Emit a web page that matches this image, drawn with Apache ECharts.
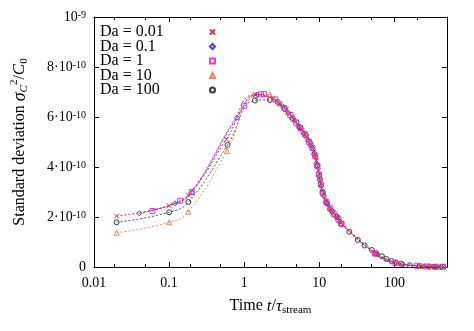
<!DOCTYPE html>
<html><head><meta charset="utf-8">
<script src="https://cdn.jsdelivr.net/npm/echarts@6/dist/echarts.min.js"></script>
<style>html,body{margin:0;padding:0;background:#fff}#c{width:474px;height:331px}</style>
</head><body><div id="c"></div>
<script>
// Legend / series names
const seriesNames = ['Da = 0.01', 'Da = 0.1', 'Da = 1', 'Da = 10', 'Da = 100'];
// y values are in units of 1e-10
const UNIT = 1e-10;
const da001 = [[0.02,2.04],[0.1,2.45],[0.18,2.88],[0.58,5.11],[1.4,6.90],[2.4,6.75],[3.0,6.52],[3.6,6.29],[4.3,6.00],[5.1,5.71],[5.9,5.47],[6.7,5.23],[7.6,4.92],[8.4,4.60],[9.1,4.25],[9.7,3.85],[10.3,3.44],[10.9,3.04],[12.0,2.68],[13.6,2.40],[15.2,2.16],[17.5,1.96],[19.3,1.76],[56,0.54],[110,0.15],[220,0.04],[300,0.02],[380,0.01],[450,0.01]];
const da01 = [[0.04,2.15],[0.12,2.55],[0.2,2.98],[0.8,5.97],[1.5,6.90],[3.2,6.44],[3.9,6.16],[4.7,5.85],[5.4,5.62],[6.3,5.35],[7.1,5.08],[8.1,4.76],[8.8,4.44],[9.4,4.05],[10.0,3.64],[10.6,3.24],[11.5,2.84],[12.8,2.52],[14.4,2.28],[16.7,2.04],[18.8,1.82],[60,0.50],[130,0.11],[250,0.03],[340,0.01],[420,0.01]];
const da1 = [[0.06,2.24],[0.14,2.65],[0.2,3.00],[1.0,6.45],[1.67,6.91],[1.83,6.92],[2.6,6.70],[3.4,6.37],[4.1,6.08],[4.9,5.78],[5.6,5.56],[6.4,5.31],[7.3,5.01],[8.1,4.76],[8.8,4.44],[9.4,4.05],[9.9,3.70],[10.5,3.30],[11.2,2.94],[12.4,2.60],[14.0,2.34],[16.0,2.10],[18.0,1.90],[19.8,1.72],[55,0.55],[100,0.18],[200,0.05],[270,0.02],[350,0.01],[440,0.01]];
const da10 = [[0.02,1.37],[0.1,1.79],[0.18,2.21],[0.59,4.65],[1.42,6.88],[2.2,6.90],[2.9,6.57],[3.8,6.20],[4.5,5.91],[5.3,5.65],[6.1,5.40],[7.0,5.12],[7.8,4.86],[8.6,4.52],[9.2,4.18],[9.8,3.78],[10.4,3.38],[11.0,3.00],[12.2,2.64],[13.9,2.36],[15.8,2.12],[18.5,1.86],[57,0.52],[115,0.14],[230,0.04],[310,0.02],[400,0.01]];
const da100 = [[0.02,1.79],[0.1,2.19],[0.18,2.60],[0.6,4.88],[1.39,6.66],[2.2,6.68],[2.8,6.60],[3.5,6.32],[4.4,5.95],[5.5,5.59],[6.6,5.26],[7.6,4.92],[8.6,4.52],[9.4,4.05],[10.2,3.50],[11.0,3.00],[12.6,2.56],[14.8,2.22],[17.2,2.00],[19.5,1.74],[25,1.41],[32.5,1.08],[40,0.86],[50,0.68],[57,0.54],[68,0.43],[78,0.32],[91,0.24],[105,0.17],[124,0.12],[160,0.07],[215,0.04],[290,0.02],[360,0.01],[440,0.01]];
const allData = [da001, da01, da1, da10, da100];
// Axis ticks
const xTicks = [0.01, 0.1, 1, 10, 100];
const xTickLabels = ['0.01', '0.1', '1', '10', '100'];
const xMinorTicks = [0.02, 0.05, 0.2, 0.5, 2, 5, 20, 50, 200];
const yTickLabelsBase = ['0', '2·10', '4·10', '6·10', '8·10', '10'];
const yTickLabelsExp = ['', '-10', '-10', '-10', '-10', '-9'];

const FONT = 'Liberation Serif';
const colors = ['#e2303f', '#4c3ce0', '#e03ee6', '#f0845a', '#3a3a3a'];
const lineColors = ['#e2303f', '#5a3ce0', '#d03ee0', '#f08a60', '#555555'];
const symbols = ['path://M0,0L10,10M10,0L0,10', 'diamond', 'rect', 'triangle', 'circle'];

const chart = echarts.init(document.getElementById('c'), null, {renderer: 'canvas'});

const series = allData.map((d, i) => ({
  name: seriesNames[i],
  type: 'line',
  xAxisIndex: 0, yAxisIndex: 0,
  data: d.map(p => [p[0], p[1] * UNIT]),
  symbol: symbols[i],
  symbolSize: 5,
  smooth: 0.5,
  showAllSymbol: true,
  lineStyle: {color: lineColors[i], width: 1, type: [2, 2]},
  itemStyle: {color: 'rgba(0,0,0,0)', borderColor: colors[i], borderWidth: 1},
  emphasis: {disabled: true},
  z: [6, 5, 4, 3, 2][i]
}));

const axisLine = {show: true, onZero: false, lineStyle: {color: '#000', width: 1}};
const gridRect = {left: 92, right: 27, top: 17, bottom: 64, containLabel: false};

const xFmt = v => {
  for (let k = 0; k < xTicks.length; k++) if (Math.abs(Math.log10(v) - Math.log10(xTicks[k])) < 1e-6) return xTickLabels[k];
  return '';
};

chart.setOption({
  animation: false,
  backgroundColor: '#fff',
  grid: [Object.assign({}, gridRect), Object.assign({}, gridRect)],
  legend: {
    orient: 'vertical', left: 100, top: 24, padding: 0, itemGap: -1.5,
    align: 'right', itemWidth: 5, itemHeight: 5,
    selectedMode: false,
    data: seriesNames.map((n, i) => ({name: n, icon: symbols[i]})),
    formatter: n => '{a|' + n + '}',
    textStyle: {fontFamily: FONT, color: '#000',
      rich: {a: {width: 105, align: 'left', fontSize: 16, lineHeight: 13.5, fontFamily: FONT, color: '#000'}}}
  },
  xAxis: [
    {type: 'log', logBase: 10, gridIndex: 0, position: 'bottom', min: 0.01, max: 500,
     axisLine: axisLine,
     axisTick: {show: true, inside: true, length: 5, customValues: xTicks, lineStyle: {color: '#000'}},
     axisLabel: {customValues: xTicks, formatter: xFmt, margin: 9, fontFamily: FONT, fontSize: 14, color: '#000'},
     splitLine: {show: false},
     name: '{n|Time }{i|t}{n|/}{i|τ}{s|stream}',
     nameLocation: 'middle', nameGap: 31,
     nameTextStyle: {fontFamily: FONT, color: '#000', rich: {
       n: {fontSize: 16, lineHeight: 16, verticalAlign: 'top', fontFamily: FONT, color: '#000'},
       i: {fontSize: 17, lineHeight: 16, verticalAlign: 'top', fontStyle: 'italic', fontFamily: FONT, color: '#000'},
       s: {fontSize: 11, lineHeight: 11, padding: [7, 0, 0, 0], verticalAlign: 'top', fontFamily: FONT, color: '#000'}
     }}},
    {type: 'log', logBase: 10, gridIndex: 0, position: 'top', min: 0.01, max: 500,
     axisLine: axisLine,
     axisTick: {show: true, inside: true, length: 5, customValues: xTicks, lineStyle: {color: '#000'}},
     axisLabel: {show: false}, splitLine: {show: false}},
    {type: 'log', logBase: 10, gridIndex: 1, position: 'bottom', min: 0.01, max: 500,
     axisLine: {show: false},
     axisTick: {show: true, inside: true, length: 3, customValues: xMinorTicks, lineStyle: {color: '#000'}},
     axisLabel: {show: false}, splitLine: {show: false}},
    {type: 'log', logBase: 10, gridIndex: 1, position: 'top', min: 0.01, max: 500,
     axisLine: {show: false},
     axisTick: {show: true, inside: true, length: 3, customValues: xMinorTicks, lineStyle: {color: '#000'}},
     axisLabel: {show: false}, splitLine: {show: false}}
  ],
  yAxis: [
    {type: 'value', gridIndex: 0, position: 'left', min: 0, max: 1e-9, interval: 2e-10,
     axisLine: axisLine,
     axisTick: {show: true, inside: true, length: 5, lineStyle: {color: '#000'}},
     axisLabel: {margin: 8, fontFamily: FONT, color: '#000',
       formatter: v => {
         const k = Math.round(v / 2e-10);
         if (k === 0) return '{b|0}';
         return '{b|' + yTickLabelsBase[k] + '}{s|' + yTickLabelsExp[k] + '}';
       },
       rich: {
         b: {fontSize: 14, lineHeight: 14, verticalAlign: 'bottom', fontFamily: FONT, color: '#000'},
         s: {fontSize: 10, lineHeight: 10, padding: [0, 0, 7, 0], verticalAlign: 'top', fontFamily: FONT, color: '#000'}
       }},
     splitLine: {show: false},
     name: '{n|Standard deviation }{g|σ}{sbi|C}{sp|2}{n|/}{i|C}{sb|0}',
     nameLocation: 'middle', nameRotate: 90, nameGap: 62,
     nameTextStyle: {fontFamily: FONT, color: '#000', rich: {
       n: {fontSize: 16, lineHeight: 24, fontFamily: FONT, color: '#000'},
       g: {fontSize: 18, lineHeight: 24, fontStyle: 'italic', fontFamily: FONT, color: '#000'},
       i: {fontSize: 17, lineHeight: 24, fontStyle: 'italic', fontFamily: FONT, color: '#000'},
       sbi: {fontSize: 11, lineHeight: 11, padding: [0, 0, 2, 0], verticalAlign: 'bottom', fontStyle: 'italic', fontFamily: FONT, color: '#000'},
       sb: {fontSize: 11, lineHeight: 11, padding: [0, 0, 2, 0], verticalAlign: 'bottom', fontFamily: FONT, color: '#000'},
       sp: {fontSize: 11, lineHeight: 11, padding: [1, 0, 0, 0], verticalAlign: 'top', fontFamily: FONT, color: '#000'}
     }}},
    {type: 'value', gridIndex: 0, position: 'right', min: 0, max: 1e-9, interval: 2e-10,
     axisLine: axisLine,
     axisTick: {show: true, inside: true, length: 5, lineStyle: {color: '#000'}},
     axisLabel: {show: false}, splitLine: {show: false}},
    {type: 'value', gridIndex: 1, min: 0, max: 1e-9, show: false}
  ],
  series: series
});
</script>
</body></html>
